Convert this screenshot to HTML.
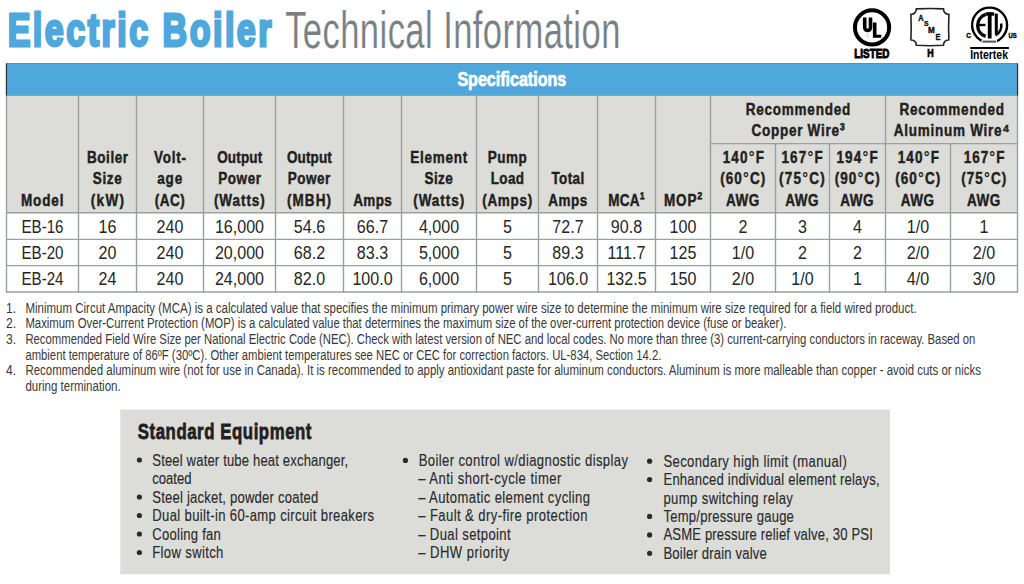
<!DOCTYPE html>
<html><head><meta charset="utf-8"><title>Electric Boiler Technical Information</title>
<style>
html,body{margin:0;padding:0;background:#fff;width:1024px;height:584px;overflow:hidden}
svg{display:block;font-family:"Liberation Sans",sans-serif}
</style></head><body>
<svg width="1024" height="584" viewBox="0 0 1024 584">
<text transform="translate(7.66 46.25) scale(0.7300 1)" font-size="46.657" font-weight="bold" fill="#4fa8dc" stroke="#4fa8dc" stroke-width="2.900" stroke-linejoin="miter" stroke-miterlimit="2" letter-spacing="3.418">Electric Boiler</text>
<text transform="translate(285.13 47.60) scale(0.6800 1)" font-size="50.872" font-weight="normal" fill="#788085" stroke="#fff" stroke-width="0.200" stroke-linejoin="miter" stroke-miterlimit="2" letter-spacing="0.615">Technical Information</text>
<circle cx="872.05" cy="27.4" r="17.1" fill="none" stroke="#000" stroke-width="4"/>
<path d="M864.7 17.5 V27.6 A2.9 2.9 0 0 0 870.5 27.6 V17.5" fill="none" stroke="#000" stroke-width="3.6"/>
<path d="M872.9 22.5 H876.5 V34.8 H881.3 V37.7 H872.9 Z" fill="#000"/>
<circle cx="867.5" cy="35.6" r="1.5" fill="none" stroke="#bbb" stroke-width="0.6"/>
<text transform="translate(854.37 57.95) scale(0.8151 1)" font-size="12.064" font-weight="bold" fill="#000" stroke="#000" stroke-width="0.900" stroke-linejoin="miter" stroke-miterlimit="2">LISTED</text>
<path d="M916.2 8.9 Q929.9 8.1 943.6 8.9 A4.7 4.7 0 0 0 948.9 14.2 Q948.3 27.1 948.9 40 A4.7 4.7 0 0 0 943.6 45.3 Q929.9 46.1 916.2 45.3 A4.7 4.7 0 0 0 910.9 40 Q911.5 27.1 910.9 14.2 A4.7 4.7 0 0 0 916.2 8.9 Z" fill="none" stroke="#222" stroke-width="1.6" stroke-linejoin="round"/>
<text transform="translate(918.18 20.60) scale(0.9081 1)" font-size="8.140" font-weight="bold" fill="#111" stroke="#111" stroke-width="0.400" stroke-linejoin="miter" stroke-miterlimit="2">A</text>
<text transform="translate(923.89 26.30) scale(0.9514 1)" font-size="7.122" font-weight="bold" fill="#111" stroke="#111" stroke-width="0.400" stroke-linejoin="miter" stroke-miterlimit="2">S</text>
<text transform="translate(928.09 33.10) scale(0.9724 1)" font-size="8.285" font-weight="bold" fill="#111" stroke="#111" stroke-width="0.400" stroke-linejoin="miter" stroke-miterlimit="2">M</text>
<text transform="translate(935.56 39.50) scale(0.8025 1)" font-size="9.302" font-weight="bold" fill="#111" stroke="#111" stroke-width="0.400" stroke-linejoin="miter" stroke-miterlimit="2">E</text>
<text transform="translate(927.29 56.65) scale(0.8372 1)" font-size="10.610" font-weight="bold" fill="#000" stroke="#000" stroke-width="0.700" stroke-linejoin="miter" stroke-miterlimit="2">H</text>
<circle cx="989.6" cy="25.1" r="17.5" fill="none" stroke="#000" stroke-width="2.4"/>
<rect x="981.5" y="40" width="15.5" height="4" fill="#fff"/>
<rect x="982.5" y="40.6" width="13.7" height="2" fill="#555"/>
<path d="M985.6 14.4 A11.6 11.6 0 0 0 985.6 36.4" fill="none" stroke="#000" stroke-width="3.4"/>
<rect x="979" y="23.8" width="6.5" height="2.4" fill="#000"/>
<rect x="985.6" y="12.3" width="8.6" height="3.4" fill="#000"/>
<rect x="987.8" y="12.3" width="3.8" height="26.2" fill="#000"/>
<path d="M996.3 13.6 V34.5" fill="none" stroke="#000" stroke-width="3"/><path d="M995.5 35.4 A11.5 11.5 0 0 0 1001.2 23.5" fill="none" stroke="#000" stroke-width="2.6"/>
<text transform="translate(966.28 37.70) scale(0.9022 1)" font-size="7.122" font-weight="bold" fill="#000" stroke="#000" stroke-width="0.400" stroke-linejoin="miter" stroke-miterlimit="2">C</text>
<text transform="translate(1008.47 37.70) scale(0.8258 1)" font-size="7.122" font-weight="bold" fill="#000" stroke="#000" stroke-width="0.400" stroke-linejoin="miter" stroke-miterlimit="2">US</text>
<rect x="970.2" y="47" width="38.7" height="2" fill="#000"/>
<text transform="translate(970.20 59.30) scale(0.8776 1)" font-size="11.919" font-weight="bold" fill="#000">Intertek</text>
<rect x="6" y="63.5" width="1012" height="32" fill="#4fa8dc"/>
<rect x="6" y="95.5" width="1012" height="117" fill="#dcddd9"/>
<text transform="translate(457.38 86.35) scale(0.8061 1)" font-size="19.913" font-weight="bold" fill="#fff" stroke="#fff" stroke-width="0.700" stroke-linejoin="miter" stroke-miterlimit="2">Specifications</text>
<line x1="6" y1="63.5" x2="1018" y2="63.5" stroke="#7f8585" stroke-width="1"/>
<line x1="6" y1="95.5" x2="1018" y2="95.5" stroke="#9a9fa0" stroke-width="1"/>
<line x1="6.5" y1="63.5" x2="6.5" y2="292.7" stroke="#9a9fa0" stroke-width="1.4"/>
<line x1="1017.5" y1="63.5" x2="1017.5" y2="292.7" stroke="#9a9fa0" stroke-width="1.4"/>
<line x1="6.5" y1="63.5" x2="6.5" y2="95.5" stroke="#333" stroke-width="1.2"/>
<line x1="1017.5" y1="63.5" x2="1017.5" y2="95.5" stroke="#333" stroke-width="1.2"/>
<line x1="78.5" y1="95.5" x2="78.5" y2="292.7" stroke="#9a9fa0" stroke-width="1.4"/>
<line x1="136.5" y1="95.5" x2="136.5" y2="292.7" stroke="#9a9fa0" stroke-width="1.4"/>
<line x1="203.5" y1="95.5" x2="203.5" y2="292.7" stroke="#9a9fa0" stroke-width="1.4"/>
<line x1="275.5" y1="95.5" x2="275.5" y2="292.7" stroke="#9a9fa0" stroke-width="1.4"/>
<line x1="343.5" y1="95.5" x2="343.5" y2="292.7" stroke="#9a9fa0" stroke-width="1.4"/>
<line x1="401.5" y1="95.5" x2="401.5" y2="292.7" stroke="#9a9fa0" stroke-width="1.4"/>
<line x1="476.5" y1="95.5" x2="476.5" y2="292.7" stroke="#9a9fa0" stroke-width="1.4"/>
<line x1="538.5" y1="95.5" x2="538.5" y2="292.7" stroke="#9a9fa0" stroke-width="1.4"/>
<line x1="597.5" y1="95.5" x2="597.5" y2="292.7" stroke="#9a9fa0" stroke-width="1.4"/>
<line x1="655.5" y1="95.5" x2="655.5" y2="292.7" stroke="#9a9fa0" stroke-width="1.4"/>
<line x1="710.5" y1="95.5" x2="710.5" y2="292.7" stroke="#9a9fa0" stroke-width="1.4"/>
<line x1="775.5" y1="143.6" x2="775.5" y2="292.7" stroke="#9a9fa0" stroke-width="1.4"/>
<line x1="829.5" y1="143.6" x2="829.5" y2="292.7" stroke="#9a9fa0" stroke-width="1.4"/>
<line x1="885.5" y1="95.5" x2="885.5" y2="292.7" stroke="#9a9fa0" stroke-width="1.4"/>
<line x1="950.5" y1="143.6" x2="950.5" y2="292.7" stroke="#9a9fa0" stroke-width="1.4"/>
<line x1="6" y1="212.8" x2="1018" y2="212.8" stroke="#9a9fa0" stroke-width="1.4"/>
<line x1="6" y1="239.4" x2="1018" y2="239.4" stroke="#9a9fa0" stroke-width="1.4"/>
<line x1="6" y1="265.6" x2="1018" y2="265.6" stroke="#9a9fa0" stroke-width="1.4"/>
<line x1="6" y1="292" x2="1018" y2="292" stroke="#9a9fa0" stroke-width="1.4"/>
<line x1="710.5" y1="143.6" x2="1018" y2="143.6" stroke="#9a9fa0" stroke-width="1.4"/>
<text transform="translate(20.94 205.76) scale(0.7800 1)" font-size="17.326" font-weight="bold" fill="#231f20" stroke="#231f20" stroke-width="0.480" stroke-linejoin="miter" stroke-miterlimit="2" letter-spacing="1.149">Model</text>
<text transform="translate(86.94 162.96) scale(0.7800 1)" font-size="17.326" font-weight="bold" fill="#231f20" stroke="#231f20" stroke-width="0.480" stroke-linejoin="miter" stroke-miterlimit="2" letter-spacing="0.725">Boiler</text>
<text transform="translate(92.69 184.46) scale(0.7800 1)" font-size="17.326" font-weight="bold" fill="#231f20" stroke="#231f20" stroke-width="0.480" stroke-linejoin="miter" stroke-miterlimit="2" letter-spacing="0.891">Size</text>
<text transform="translate(90.69 205.76) scale(0.7800 1)" font-size="17.326" font-weight="bold" fill="#231f20" stroke="#231f20" stroke-width="0.480" stroke-linejoin="miter" stroke-miterlimit="2" letter-spacing="1.754">(kW)</text>
<text transform="translate(153.94 162.96) scale(0.7800 1)" font-size="17.326" font-weight="bold" fill="#231f20" stroke="#231f20" stroke-width="0.480" stroke-linejoin="miter" stroke-miterlimit="2" letter-spacing="0.997">Volt-</text>
<text transform="translate(157.19 184.46) scale(0.7800 1)" font-size="17.326" font-weight="bold" fill="#231f20" stroke="#231f20" stroke-width="0.480" stroke-linejoin="miter" stroke-miterlimit="2" letter-spacing="1.180">age</text>
<text transform="translate(154.69 205.76) scale(0.7800 1)" font-size="17.326" font-weight="bold" fill="#231f20" stroke="#231f20" stroke-width="0.480" stroke-linejoin="miter" stroke-miterlimit="2" letter-spacing="0.689">(AC)</text>
<text transform="translate(217.19 162.96) scale(0.7800 1)" font-size="17.326" font-weight="bold" fill="#231f20" stroke="#231f20" stroke-width="0.480" stroke-linejoin="miter" stroke-miterlimit="2" letter-spacing="0.219">Output</text>
<text transform="translate(218.19 184.46) scale(0.7800 1)" font-size="17.326" font-weight="bold" fill="#231f20" stroke="#231f20" stroke-width="0.480" stroke-linejoin="miter" stroke-miterlimit="2" letter-spacing="0.744">Power</text>
<text transform="translate(213.94 205.76) scale(0.7800 1)" font-size="17.326" font-weight="bold" fill="#231f20" stroke="#231f20" stroke-width="0.480" stroke-linejoin="miter" stroke-miterlimit="2" letter-spacing="1.195">(Watts)</text>
<text transform="translate(286.94 162.96) scale(0.7800 1)" font-size="17.326" font-weight="bold" fill="#231f20" stroke="#231f20" stroke-width="0.480" stroke-linejoin="miter" stroke-miterlimit="2" letter-spacing="0.155">Output</text>
<text transform="translate(287.69 184.46) scale(0.7800 1)" font-size="17.326" font-weight="bold" fill="#231f20" stroke="#231f20" stroke-width="0.480" stroke-linejoin="miter" stroke-miterlimit="2" letter-spacing="0.664">Power</text>
<text transform="translate(286.94 205.76) scale(0.7800 1)" font-size="17.326" font-weight="bold" fill="#231f20" stroke="#231f20" stroke-width="0.480" stroke-linejoin="miter" stroke-miterlimit="2" letter-spacing="1.396">(MBH)</text>
<text transform="translate(353.19 205.76) scale(0.7800 1)" font-size="17.326" font-weight="bold" fill="#231f20" stroke="#231f20" stroke-width="0.480" stroke-linejoin="miter" stroke-miterlimit="2" letter-spacing="0.463">Amps</text>
<text transform="translate(410.19 162.96) scale(0.7800 1)" font-size="17.326" font-weight="bold" fill="#231f20" stroke="#231f20" stroke-width="0.480" stroke-linejoin="miter" stroke-miterlimit="2" letter-spacing="0.974">Element</text>
<text transform="translate(424.44 184.46) scale(0.7800 1)" font-size="17.326" font-weight="bold" fill="#231f20" stroke="#231f20" stroke-width="0.480" stroke-linejoin="miter" stroke-miterlimit="2" letter-spacing="0.570">Size</text>
<text transform="translate(413.19 205.76) scale(0.7800 1)" font-size="17.326" font-weight="bold" fill="#231f20" stroke="#231f20" stroke-width="0.480" stroke-linejoin="miter" stroke-miterlimit="2" letter-spacing="1.248">(Watts)</text>
<text transform="translate(487.69 162.96) scale(0.7800 1)" font-size="17.326" font-weight="bold" fill="#231f20" stroke="#231f20" stroke-width="0.480" stroke-linejoin="miter" stroke-miterlimit="2" letter-spacing="0.677">Pump</text>
<text transform="translate(490.69 184.46) scale(0.7800 1)" font-size="17.326" font-weight="bold" fill="#231f20" stroke="#231f20" stroke-width="0.480" stroke-linejoin="miter" stroke-miterlimit="2" letter-spacing="0.466">Load</text>
<text transform="translate(482.19 205.76) scale(0.7800 1)" font-size="17.326" font-weight="bold" fill="#231f20" stroke="#231f20" stroke-width="0.480" stroke-linejoin="miter" stroke-miterlimit="2" letter-spacing="0.919">(Amps)</text>
<text transform="translate(551.44 184.46) scale(0.7800 1)" font-size="17.326" font-weight="bold" fill="#231f20" stroke="#231f20" stroke-width="0.480" stroke-linejoin="miter" stroke-miterlimit="2" letter-spacing="0.514">Total</text>
<text transform="translate(548.19 205.76) scale(0.7800 1)" font-size="17.326" font-weight="bold" fill="#231f20" stroke="#231f20" stroke-width="0.480" stroke-linejoin="miter" stroke-miterlimit="2" letter-spacing="0.677">Amps</text>
<text transform="translate(608.19 205.76) scale(0.7800 1)" font-size="17.326" font-weight="bold" fill="#231f20" stroke="#231f20" stroke-width="0.480" stroke-linejoin="miter" stroke-miterlimit="2" letter-spacing="0.365">MCA<tspan font-size="112%" dy="0.5">¹</tspan></text>
<text transform="translate(663.94 205.76) scale(0.7800 1)" font-size="17.326" font-weight="bold" fill="#231f20" stroke="#231f20" stroke-width="0.480" stroke-linejoin="miter" stroke-miterlimit="2" letter-spacing="1.107">MOP<tspan font-size="112%" dy="0.5">²</tspan></text>
<text transform="translate(745.69 115.46) scale(0.7800 1)" font-size="17.326" font-weight="bold" fill="#231f20" stroke="#231f20" stroke-width="0.480" stroke-linejoin="miter" stroke-miterlimit="2" letter-spacing="0.995">Recommended</text>
<text transform="translate(751.44 136.06) scale(0.7800 1)" font-size="17.326" font-weight="bold" fill="#231f20" stroke="#231f20" stroke-width="0.480" stroke-linejoin="miter" stroke-miterlimit="2" letter-spacing="0.951">Copper Wire<tspan font-size="112%" dy="0.5">³</tspan></text>
<text transform="translate(722.69 162.96) scale(0.7800 1)" font-size="17.326" font-weight="bold" fill="#231f20" stroke="#231f20" stroke-width="0.480" stroke-linejoin="miter" stroke-miterlimit="2" letter-spacing="1.497">140<tspan stroke="none" font-size="108%">°</tspan>F</text>
<text transform="translate(720.19 184.26) scale(0.7800 1)" font-size="17.326" font-weight="bold" fill="#231f20" stroke="#231f20" stroke-width="0.480" stroke-linejoin="miter" stroke-miterlimit="2" letter-spacing="1.394">(60<tspan stroke="none" font-size="108%">°</tspan>C)</text>
<text transform="translate(725.94 205.56) scale(0.7800 1)" font-size="17.326" font-weight="bold" fill="#231f20" stroke="#231f20" stroke-width="0.480" stroke-linejoin="miter" stroke-miterlimit="2" letter-spacing="0.699">AWG</text>
<text transform="translate(781.44 162.96) scale(0.7800 1)" font-size="17.326" font-weight="bold" fill="#231f20" stroke="#231f20" stroke-width="0.480" stroke-linejoin="miter" stroke-miterlimit="2" letter-spacing="1.497">167<tspan stroke="none" font-size="108%">°</tspan>F</text>
<text transform="translate(778.94 184.26) scale(0.7800 1)" font-size="17.326" font-weight="bold" fill="#231f20" stroke="#231f20" stroke-width="0.480" stroke-linejoin="miter" stroke-miterlimit="2" letter-spacing="1.586">(75<tspan stroke="none" font-size="108%">°</tspan>C)</text>
<text transform="translate(785.19 205.56) scale(0.7800 1)" font-size="17.326" font-weight="bold" fill="#231f20" stroke="#231f20" stroke-width="0.480" stroke-linejoin="miter" stroke-miterlimit="2" letter-spacing="0.699">AWG</text>
<text transform="translate(836.44 162.96) scale(0.7800 1)" font-size="17.326" font-weight="bold" fill="#231f20" stroke="#231f20" stroke-width="0.480" stroke-linejoin="miter" stroke-miterlimit="2" letter-spacing="1.497">194<tspan stroke="none" font-size="108%">°</tspan>F</text>
<text transform="translate(834.69 184.26) scale(0.7800 1)" font-size="17.326" font-weight="bold" fill="#231f20" stroke="#231f20" stroke-width="0.480" stroke-linejoin="miter" stroke-miterlimit="2" letter-spacing="1.394">(90<tspan stroke="none" font-size="108%">°</tspan>C)</text>
<text transform="translate(840.19 205.56) scale(0.7800 1)" font-size="17.326" font-weight="bold" fill="#231f20" stroke="#231f20" stroke-width="0.480" stroke-linejoin="miter" stroke-miterlimit="2" letter-spacing="0.699">AWG</text>
<text transform="translate(899.44 115.46) scale(0.7800 1)" font-size="17.326" font-weight="bold" fill="#231f20" stroke="#231f20" stroke-width="0.480" stroke-linejoin="miter" stroke-miterlimit="2" letter-spacing="0.995">Recommended</text>
<text transform="translate(893.69 136.06) scale(0.7800 1)" font-size="17.326" font-weight="bold" fill="#231f20" stroke="#231f20" stroke-width="0.480" stroke-linejoin="miter" stroke-miterlimit="2" letter-spacing="0.958">Aluminum Wire<tspan font-size="112%" dy="0.5">⁴</tspan></text>
<text transform="translate(897.69 162.96) scale(0.7800 1)" font-size="17.326" font-weight="bold" fill="#231f20" stroke="#231f20" stroke-width="0.480" stroke-linejoin="miter" stroke-miterlimit="2" letter-spacing="1.497">140<tspan stroke="none" font-size="108%">°</tspan>F</text>
<text transform="translate(895.19 184.26) scale(0.7800 1)" font-size="17.326" font-weight="bold" fill="#231f20" stroke="#231f20" stroke-width="0.480" stroke-linejoin="miter" stroke-miterlimit="2" letter-spacing="1.394">(60<tspan stroke="none" font-size="108%">°</tspan>C)</text>
<text transform="translate(900.69 205.56) scale(0.7800 1)" font-size="17.326" font-weight="bold" fill="#231f20" stroke="#231f20" stroke-width="0.480" stroke-linejoin="miter" stroke-miterlimit="2" letter-spacing="0.699">AWG</text>
<text transform="translate(963.69 162.96) scale(0.7800 1)" font-size="17.326" font-weight="bold" fill="#231f20" stroke="#231f20" stroke-width="0.480" stroke-linejoin="miter" stroke-miterlimit="2" letter-spacing="1.337">167<tspan stroke="none" font-size="108%">°</tspan>F</text>
<text transform="translate(961.19 184.26) scale(0.7800 1)" font-size="17.326" font-weight="bold" fill="#231f20" stroke="#231f20" stroke-width="0.480" stroke-linejoin="miter" stroke-miterlimit="2" letter-spacing="1.394">(75<tspan stroke="none" font-size="108%">°</tspan>C)</text>
<text transform="translate(966.94 205.56) scale(0.7800 1)" font-size="17.326" font-weight="bold" fill="#231f20" stroke="#231f20" stroke-width="0.480" stroke-linejoin="miter" stroke-miterlimit="2" letter-spacing="0.699">AWG</text>
<text transform="translate(21.47 232.50) scale(0.8200 1)" font-size="18.459" font-weight="normal" fill="#262626">EB-16</text>
<text transform="translate(98.57 232.50) scale(0.8700 1)" font-size="18.459" font-weight="normal" fill="#262626">16</text>
<text transform="translate(156.61 232.50) scale(0.8700 1)" font-size="18.459" font-weight="normal" fill="#262626">240</text>
<text transform="translate(214.94 232.50) scale(0.8700 1)" font-size="18.459" font-weight="normal" fill="#262626">16,000</text>
<text transform="translate(293.87 232.50) scale(0.8700 1)" font-size="18.459" font-weight="normal" fill="#262626">54.6</text>
<text transform="translate(356.87 232.50) scale(0.8700 1)" font-size="18.459" font-weight="normal" fill="#262626">66.7</text>
<text transform="translate(418.91 232.50) scale(0.8700 1)" font-size="18.459" font-weight="normal" fill="#262626">4,000</text>
<text transform="translate(503.04 232.50) scale(0.8700 1)" font-size="18.459" font-weight="normal" fill="#262626">5</text>
<text transform="translate(552.37 232.50) scale(0.8700 1)" font-size="18.459" font-weight="normal" fill="#262626">72.7</text>
<text transform="translate(610.87 232.50) scale(0.8700 1)" font-size="18.459" font-weight="normal" fill="#262626">90.8</text>
<text transform="translate(669.61 232.50) scale(0.8700 1)" font-size="18.459" font-weight="normal" fill="#262626">100</text>
<text transform="translate(738.54 232.50) scale(0.8700 1)" font-size="18.459" font-weight="normal" fill="#262626">2</text>
<text transform="translate(798.04 232.50) scale(0.8700 1)" font-size="18.459" font-weight="normal" fill="#262626">3</text>
<text transform="translate(853.04 232.50) scale(0.8700 1)" font-size="18.459" font-weight="normal" fill="#262626">4</text>
<text transform="translate(906.84 232.50) scale(0.8700 1)" font-size="18.459" font-weight="normal" fill="#262626">1/0</text>
<text transform="translate(979.54 232.50) scale(0.8700 1)" font-size="18.459" font-weight="normal" fill="#262626">1</text>
<text transform="translate(21.47 259.00) scale(0.8200 1)" font-size="18.459" font-weight="normal" fill="#262626">EB-20</text>
<text transform="translate(98.57 259.00) scale(0.8700 1)" font-size="18.459" font-weight="normal" fill="#262626">20</text>
<text transform="translate(156.61 259.00) scale(0.8700 1)" font-size="18.459" font-weight="normal" fill="#262626">240</text>
<text transform="translate(214.94 259.00) scale(0.8700 1)" font-size="18.459" font-weight="normal" fill="#262626">20,000</text>
<text transform="translate(293.87 259.00) scale(0.8700 1)" font-size="18.459" font-weight="normal" fill="#262626">68.2</text>
<text transform="translate(356.87 259.00) scale(0.8700 1)" font-size="18.459" font-weight="normal" fill="#262626">83.3</text>
<text transform="translate(418.91 259.00) scale(0.8700 1)" font-size="18.459" font-weight="normal" fill="#262626">5,000</text>
<text transform="translate(503.04 259.00) scale(0.8700 1)" font-size="18.459" font-weight="normal" fill="#262626">5</text>
<text transform="translate(552.37 259.00) scale(0.8700 1)" font-size="18.459" font-weight="normal" fill="#262626">89.3</text>
<text transform="translate(607.60 259.00) scale(0.8700 1)" font-size="18.459" font-weight="normal" fill="#262626">111.7</text>
<text transform="translate(669.61 259.00) scale(0.8700 1)" font-size="18.459" font-weight="normal" fill="#262626">125</text>
<text transform="translate(731.84 259.00) scale(0.8700 1)" font-size="18.459" font-weight="normal" fill="#262626">1/0</text>
<text transform="translate(798.04 259.00) scale(0.8700 1)" font-size="18.459" font-weight="normal" fill="#262626">2</text>
<text transform="translate(853.04 259.00) scale(0.8700 1)" font-size="18.459" font-weight="normal" fill="#262626">2</text>
<text transform="translate(906.84 259.00) scale(0.8700 1)" font-size="18.459" font-weight="normal" fill="#262626">2/0</text>
<text transform="translate(972.84 259.00) scale(0.8700 1)" font-size="18.459" font-weight="normal" fill="#262626">2/0</text>
<text transform="translate(21.47 285.30) scale(0.8200 1)" font-size="18.459" font-weight="normal" fill="#262626">EB-24</text>
<text transform="translate(98.57 285.30) scale(0.8700 1)" font-size="18.459" font-weight="normal" fill="#262626">24</text>
<text transform="translate(156.61 285.30) scale(0.8700 1)" font-size="18.459" font-weight="normal" fill="#262626">240</text>
<text transform="translate(214.94 285.30) scale(0.8700 1)" font-size="18.459" font-weight="normal" fill="#262626">24,000</text>
<text transform="translate(293.87 285.30) scale(0.8700 1)" font-size="18.459" font-weight="normal" fill="#262626">82.0</text>
<text transform="translate(352.41 285.30) scale(0.8700 1)" font-size="18.459" font-weight="normal" fill="#262626">100.0</text>
<text transform="translate(418.91 285.30) scale(0.8700 1)" font-size="18.459" font-weight="normal" fill="#262626">6,000</text>
<text transform="translate(503.04 285.30) scale(0.8700 1)" font-size="18.459" font-weight="normal" fill="#262626">5</text>
<text transform="translate(547.91 285.30) scale(0.8700 1)" font-size="18.459" font-weight="normal" fill="#262626">106.0</text>
<text transform="translate(606.41 285.30) scale(0.8700 1)" font-size="18.459" font-weight="normal" fill="#262626">132.5</text>
<text transform="translate(669.61 285.30) scale(0.8700 1)" font-size="18.459" font-weight="normal" fill="#262626">150</text>
<text transform="translate(731.84 285.30) scale(0.8700 1)" font-size="18.459" font-weight="normal" fill="#262626">2/0</text>
<text transform="translate(791.34 285.30) scale(0.8700 1)" font-size="18.459" font-weight="normal" fill="#262626">1/0</text>
<text transform="translate(853.04 285.30) scale(0.8700 1)" font-size="18.459" font-weight="normal" fill="#262626">1</text>
<text transform="translate(906.84 285.30) scale(0.8700 1)" font-size="18.459" font-weight="normal" fill="#262626">4/0</text>
<text transform="translate(972.84 285.30) scale(0.8700 1)" font-size="18.459" font-weight="normal" fill="#262626">3/0</text>
<text transform="translate(5.90 313.00) scale(0.8500 1)" font-size="14.244" font-weight="normal" fill="#383838">1.</text>
<text transform="translate(25.40 313.00) scale(0.8076 1)" font-size="14.244" font-weight="normal" fill="#383838">Minimum Circut Ampacity (MCA) is a calculated value that specifies the minimum primary power wire size to determine the minimum wire size required for a field wired product.</text>
<text transform="translate(5.90 328.20) scale(0.8500 1)" font-size="14.244" font-weight="normal" fill="#383838">2.</text>
<text transform="translate(25.40 328.20) scale(0.7969 1)" font-size="14.244" font-weight="normal" fill="#383838">Maximum Over-Current Protection (MOP) is a calculated value that determines the maximum size of the over-current protection device (fuse or beaker).</text>
<text transform="translate(5.90 343.80) scale(0.8500 1)" font-size="14.244" font-weight="normal" fill="#383838">3.</text>
<text transform="translate(25.40 343.80) scale(0.7947 1)" font-size="14.244" font-weight="normal" fill="#383838">Recommended Field Wire Size per National Electric Code (NEC). Check with latest version of NEC and local codes. No more than three (3) current-carrying conductors in raceway. Based on</text>
<text transform="translate(25.40 359.50) scale(0.7925 1)" font-size="14.244" font-weight="normal" fill="#383838">ambient temperature of 86ºF (30ºC). Other ambient temperatures see NEC or CEC for correction factors. UL-834, Section 14.2.</text>
<text transform="translate(5.90 374.70) scale(0.8500 1)" font-size="14.244" font-weight="normal" fill="#383838">4.</text>
<text transform="translate(25.40 374.70) scale(0.8052 1)" font-size="14.244" font-weight="normal" fill="#383838">Recommended aluminum wire (not for use in Canada). It is recommended to apply antioxidant paste for aluminum conductors. Aluminum is more malleable than copper - avoid cuts or nicks</text>
<text transform="translate(25.40 390.90) scale(0.8078 1)" font-size="14.244" font-weight="normal" fill="#383838">during termination.</text>
<rect x="120.3" y="409.6" width="769.7" height="164.69999999999993" fill="#dcddd9"/>
<text transform="translate(137.80 438.50) scale(0.7500 1)" font-size="22.384" font-weight="bold" fill="#231f20" stroke="#231f20" stroke-width="0.800" stroke-linejoin="miter" stroke-miterlimit="2" letter-spacing="0.757">Standard Equipment</text>
<circle cx="139.4" cy="460.0" r="2.6" fill="#2a2a2a"/>
<text transform="translate(152.26 465.52) scale(0.7600 1)" font-size="17.209" font-weight="normal" fill="#2a2a2a" stroke="#2a2a2a" stroke-width="0.160" stroke-linejoin="miter" stroke-miterlimit="2" letter-spacing="0.210">Steel water tube heat exchanger,</text>
<text transform="translate(152.26 484.02) scale(0.7600 1)" font-size="17.209" font-weight="normal" fill="#2a2a2a" stroke="#2a2a2a" stroke-width="0.160" stroke-linejoin="miter" stroke-miterlimit="2" letter-spacing="-0.022">coated</text>
<circle cx="139.4" cy="497.0" r="2.6" fill="#2a2a2a"/>
<text transform="translate(152.26 502.52) scale(0.7600 1)" font-size="17.209" font-weight="normal" fill="#2a2a2a" stroke="#2a2a2a" stroke-width="0.160" stroke-linejoin="miter" stroke-miterlimit="2" letter-spacing="0.278">Steel jacket, powder coated</text>
<circle cx="139.4" cy="515.5" r="2.6" fill="#2a2a2a"/>
<text transform="translate(152.26 521.02) scale(0.7600 1)" font-size="17.209" font-weight="normal" fill="#2a2a2a" stroke="#2a2a2a" stroke-width="0.160" stroke-linejoin="miter" stroke-miterlimit="2" letter-spacing="0.465">Dual built-in 60-amp circuit breakers</text>
<circle cx="139.4" cy="534.0" r="2.6" fill="#2a2a2a"/>
<text transform="translate(152.26 539.52) scale(0.7600 1)" font-size="17.209" font-weight="normal" fill="#2a2a2a" stroke="#2a2a2a" stroke-width="0.160" stroke-linejoin="miter" stroke-miterlimit="2" letter-spacing="0.330">Cooling fan</text>
<circle cx="139.4" cy="552.5" r="2.6" fill="#2a2a2a"/>
<text transform="translate(152.26 558.02) scale(0.7600 1)" font-size="17.209" font-weight="normal" fill="#2a2a2a" stroke="#2a2a2a" stroke-width="0.160" stroke-linejoin="miter" stroke-miterlimit="2" letter-spacing="0.472">Flow switch</text>
<circle cx="405.4" cy="460.4" r="2.6" fill="#2a2a2a"/>
<text transform="translate(418.66 465.92) scale(0.7600 1)" font-size="17.209" font-weight="normal" fill="#2a2a2a" stroke="#2a2a2a" stroke-width="0.160" stroke-linejoin="miter" stroke-miterlimit="2" letter-spacing="0.515">Boiler control w/diagnostic display</text>
<text transform="translate(418.16 484.42) scale(0.7600 1)" font-size="17.209" font-weight="normal" fill="#2a2a2a" stroke="#2a2a2a" stroke-width="0.160" stroke-linejoin="miter" stroke-miterlimit="2" letter-spacing="0.635">– Anti short-cycle timer</text>
<text transform="translate(418.16 502.92) scale(0.7600 1)" font-size="17.209" font-weight="normal" fill="#2a2a2a" stroke="#2a2a2a" stroke-width="0.160" stroke-linejoin="miter" stroke-miterlimit="2" letter-spacing="0.504">– Automatic element cycling</text>
<text transform="translate(418.16 521.42) scale(0.7600 1)" font-size="17.209" font-weight="normal" fill="#2a2a2a" stroke="#2a2a2a" stroke-width="0.160" stroke-linejoin="miter" stroke-miterlimit="2" letter-spacing="0.551">– Fault &amp; dry-fire protection</text>
<text transform="translate(418.16 539.92) scale(0.7600 1)" font-size="17.209" font-weight="normal" fill="#2a2a2a" stroke="#2a2a2a" stroke-width="0.160" stroke-linejoin="miter" stroke-miterlimit="2" letter-spacing="0.501">– Dual setpoint</text>
<text transform="translate(418.16 558.42) scale(0.7600 1)" font-size="17.209" font-weight="normal" fill="#2a2a2a" stroke="#2a2a2a" stroke-width="0.160" stroke-linejoin="miter" stroke-miterlimit="2" letter-spacing="0.633">– DHW priority</text>
<circle cx="649.6" cy="461.2" r="2.6" fill="#2a2a2a"/>
<text transform="translate(663.46 466.72) scale(0.7600 1)" font-size="17.209" font-weight="normal" fill="#2a2a2a" stroke="#2a2a2a" stroke-width="0.160" stroke-linejoin="miter" stroke-miterlimit="2" letter-spacing="0.492">Secondary high limit (manual)</text>
<circle cx="649.6" cy="479.62" r="2.6" fill="#2a2a2a"/>
<text transform="translate(663.46 485.14) scale(0.7600 1)" font-size="17.209" font-weight="normal" fill="#2a2a2a" stroke="#2a2a2a" stroke-width="0.160" stroke-linejoin="miter" stroke-miterlimit="2" letter-spacing="0.274">Enhanced individual element relays,</text>
<text transform="translate(663.46 503.56) scale(0.7600 1)" font-size="17.209" font-weight="normal" fill="#2a2a2a" stroke="#2a2a2a" stroke-width="0.160" stroke-linejoin="miter" stroke-miterlimit="2" letter-spacing="0.517">pump switching relay</text>
<circle cx="649.6" cy="516.46" r="2.6" fill="#2a2a2a"/>
<text transform="translate(663.46 521.98) scale(0.7600 1)" font-size="17.209" font-weight="normal" fill="#2a2a2a" stroke="#2a2a2a" stroke-width="0.160" stroke-linejoin="miter" stroke-miterlimit="2" letter-spacing="0.298">Temp/pressure gauge</text>
<circle cx="649.6" cy="534.88" r="2.6" fill="#2a2a2a"/>
<text transform="translate(663.46 540.40) scale(0.7600 1)" font-size="17.209" font-weight="normal" fill="#2a2a2a" stroke="#2a2a2a" stroke-width="0.160" stroke-linejoin="miter" stroke-miterlimit="2" letter-spacing="0.212">ASME pressure relief valve, 30 PSI</text>
<circle cx="649.6" cy="553.3" r="2.6" fill="#2a2a2a"/>
<text transform="translate(663.46 558.82) scale(0.7600 1)" font-size="17.209" font-weight="normal" fill="#2a2a2a" stroke="#2a2a2a" stroke-width="0.160" stroke-linejoin="miter" stroke-miterlimit="2" letter-spacing="0.245">Boiler drain valve</text>
</svg>
</body></html>
